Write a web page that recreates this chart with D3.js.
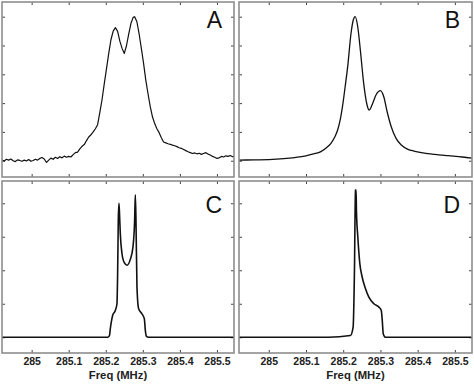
<!DOCTYPE html>
<html><head><meta charset="utf-8">
<script src="https://cdn.jsdelivr.net/npm/d3@7"></script>
<style>body{margin:0;background:#fff}svg{display:block}</style>
</head><body>
<svg id="c" width="474" height="384"></svg>
<script>
const xTicks = [285, 285.1, 285.2, 285.3, 285.4, 285.5];
const xTickLabels = ["285", "285.1", "285.2", "285.3", "285.4", "285.5"];
const xLabel = "Freq (MHz)";
const panelLetters = ["A", "B", "C", "D"];
const topYTicks = [0, 0.2, 0.4, 0.6, 0.8, 1.0];
const botYTicks = [0, 0.2, 0.4, 0.6, 0.8];

// Panel A: measured spectrum (noisy)
const seriesA = [
[284.920,0.005],[284.926,-0.002],[284.932,0.010],[284.938,0.004],[284.944,0.012],[284.950,0.000],
[284.956,-0.006],[284.962,0.006],[284.968,0.002],[284.974,-0.004],[284.980,0.004],[284.986,-0.002],
[284.992,0.008],[284.998,-0.004],[285.004,0.002],[285.010,0.010],[285.016,0.004],[285.022,0.016],
[285.028,0.022],[285.034,0.012],[285.040,-0.012],[285.046,0.004],[285.052,0.018],[285.058,0.010],
[285.064,0.024],[285.070,0.016],[285.076,0.028],[285.082,0.020],[285.088,0.032],[285.094,0.024],
[285.100,0.030],[285.106,0.026],[285.112,0.042],[285.118,0.056],[285.124,0.060],[285.130,0.082],
[285.136,0.100],[285.142,0.112],[285.148,0.140],[285.154,0.165],[285.160,0.180],[285.166,0.200],
[285.172,0.222],[285.178,0.250],[285.184,0.335],[285.190,0.425],[285.196,0.535],[285.202,0.640],
[285.208,0.745],[285.214,0.840],[285.220,0.900],[285.226,0.924],[285.232,0.898],[285.238,0.830],
[285.244,0.780],[285.250,0.745],[285.256,0.800],[285.262,0.880],[285.268,0.954],[285.274,0.995],
[285.278,1.000],[285.284,0.965],[285.290,0.880],[285.296,0.780],[285.302,0.676],[285.308,0.560],
[285.314,0.465],[285.320,0.375],[285.326,0.305],[285.332,0.258],[285.338,0.222],[285.344,0.195],
[285.350,0.160],[285.356,0.130],[285.362,0.124],[285.368,0.118],[285.374,0.114],[285.380,0.108],
[285.386,0.104],[285.392,0.098],[285.398,0.090],[285.404,0.086],[285.410,0.078],[285.416,0.070],
[285.422,0.062],[285.428,0.056],[285.434,0.050],[285.440,0.054],[285.446,0.048],[285.452,0.052],
[285.458,0.044],[285.464,0.050],[285.470,0.056],[285.476,0.046],[285.482,0.040],[285.488,0.030],
[285.494,0.024],[285.500,0.016],[285.506,0.020],[285.512,0.030],[285.518,0.026],[285.524,0.034],
[285.530,0.030],[285.536,0.036],[285.542,0.028],[285.546,0.030]];

// Panel B: measured spectrum (smooth)
const seriesB = [
[284.920,0.004],[284.960,0.006],[285.000,0.008],[285.040,0.014],[285.070,0.022],[285.100,0.034],
[285.120,0.047],[285.140,0.063],[285.155,0.090],[285.167,0.121],[285.177,0.163],[285.185,0.213],
[285.192,0.285],[285.198,0.375],[285.205,0.510],[285.212,0.653],[285.221,0.885],[285.227,0.977],
[285.232,1.000],[285.239,0.930],[285.246,0.769],[285.255,0.537],[285.264,0.387],[285.270,0.352],
[285.279,0.398],[285.288,0.456],[285.300,0.486],[285.309,0.444],[285.318,0.340],[285.329,0.236],
[285.342,0.155],[285.356,0.109],[285.374,0.079],[285.390,0.067],[285.410,0.056],[285.446,0.044],
[285.482,0.035],[285.520,0.026],[285.546,0.018]];

// Panel C: simulated spectrum
const seriesC = [
[284.920,0],[285.140,0],[285.205,0.0],[285.2100,0.01],[285.2122,0.05],[285.2149,0.09],
[285.2185,0.13],[285.2257,0.16],[285.2302,0.20],[285.2320,0.38],[285.2338,0.70],[285.2356,0.80],
[285.2374,0.72],[285.2392,0.62],[285.2437,0.50],[285.2500,0.445],[285.2572,0.43],[285.2662,0.465],
[285.2734,0.54],[285.2779,0.70],[285.2797,0.85],[285.2815,0.70],[285.2842,0.30],[285.2887,0.17],
[285.2977,0.14],[285.3041,0.11],[285.3068,0.04],[285.3100,0.005],[285.3150,0],[285.546,0]];

// Panel D: simulated spectrum
const seriesD = [
[284.920,0],[285.160,0],[285.2194,0.01],[285.2266,0.06],[285.2302,0.40],[285.2329,0.877],
[285.2345,0.88],[285.2356,0.75],[285.2392,0.60],[285.2446,0.44],[285.2509,0.36],[285.2599,0.29],
[285.2689,0.24],[285.2824,0.20],[285.2959,0.18],[285.3023,0.16],[285.3049,0.10],[285.3076,0.02],
[285.3140,0],[285.546,0]];

const xDomain = [284.92, 285.546];
const topYDomain = [-0.113, 1.102];
const botYDomain = [-0.094, 0.933];

const svg = d3.select("#c");
svg.append("rect").attr("width",474).attr("height",384).attr("fill","#fff");

const panels = [
  {x:2, y:2, w:232, h:175, data:seriesA, yd:topYDomain, yt:topYTicks, letter:panelLetters[0], labels:false, ly:26, curve:d3.curveLinear, sw:1.2},
  {x:239, y:2, w:233, h:175, data:seriesB, yd:topYDomain, yt:topYTicks, letter:panelLetters[1], labels:false, ly:26, curve:d3.curveMonotoneX, sw:1.3},
  {x:2, y:181, w:232, h:172, data:seriesC, yd:botYDomain, yt:botYTicks, letter:panelLetters[2], labels:true, ly:32, curve:d3.curveMonotoneX, sw:1.6},
  {x:239, y:181, w:233, h:172, data:seriesD, yd:botYDomain, yt:botYTicks, letter:panelLetters[3], labels:true, ly:32, curve:d3.curveMonotoneX, sw:1.6}
];

panels.forEach(p => {
  const g = svg.append("g").attr("transform", `translate(${p.x},${p.y})`);
  const x = d3.scaleLinear().domain(xDomain).range([0, p.w]);
  const y = d3.scaleLinear().domain(p.yd).range([p.h, 0]);

  const tickStyle = sel => {
    sel.select(".domain").remove();
    sel.selectAll(".tick line").attr("stroke", "#444").attr("stroke-width", 1);
  };

  g.append("g").call(d3.axisTop(x).tickValues(xTicks).tickSize(-3).tickFormat(""))
    .call(tickStyle);
  const bx = g.append("g").attr("transform", `translate(0,${p.h})`)
    .call(d3.axisBottom(x).tickValues(xTicks).tickSizeInner(-3).tickSizeOuter(0).tickPadding(5)
      .tickFormat((d,i) => p.labels ? xTickLabels[i] : ""))
    .call(tickStyle);
  bx.selectAll(".tick text")
    .attr("font-family", "Liberation Sans, Arial, sans-serif")
    .attr("font-weight", "bold").attr("font-size", 10.5).attr("fill", "#222");
  g.append("g").call(d3.axisLeft(y).tickValues(p.yt).tickSize(-3).tickFormat(""))
    .call(tickStyle);
  g.append("g").attr("transform", `translate(${p.w},0)`)
    .call(d3.axisRight(y).tickValues(p.yt).tickSize(-3).tickFormat(""))
    .call(tickStyle);

  g.append("defs").append("clipPath").attr("id", "clip" + p.letter)
    .append("rect").attr("width", p.w).attr("height", p.h);

  const line = d3.line().x(d => x(d[0])).y(d => y(d[1])).curve(p.curve);
  g.append("path").datum(p.data).attr("clip-path", `url(#clip${p.letter})`)
    .attr("d", line).attr("fill", "none").attr("stroke", "#111")
    .attr("stroke-width", p.sw).attr("stroke-linejoin", "round");

  g.append("rect").attr("width", p.w).attr("height", p.h)
    .attr("fill", "none").attr("stroke", "#8e8e8e").attr("stroke-width", 1.6);

  g.append("text").attr("x", p.w - 12).attr("y", p.ly).attr("text-anchor", "end")
    .attr("font-family", "Liberation Sans, Arial, sans-serif").attr("font-size", 23)
    .attr("fill", "#111").text(p.letter);

  if (p.labels) {
    g.append("text").attr("x", p.w / 2).attr("y", p.h + 26).attr("text-anchor", "middle")
      .attr("font-family", "Liberation Sans, Arial, sans-serif").attr("font-weight", "bold")
      .attr("font-size", 11.3).attr("fill", "#222").text(xLabel);
  }
});
</script>
</body></html>
